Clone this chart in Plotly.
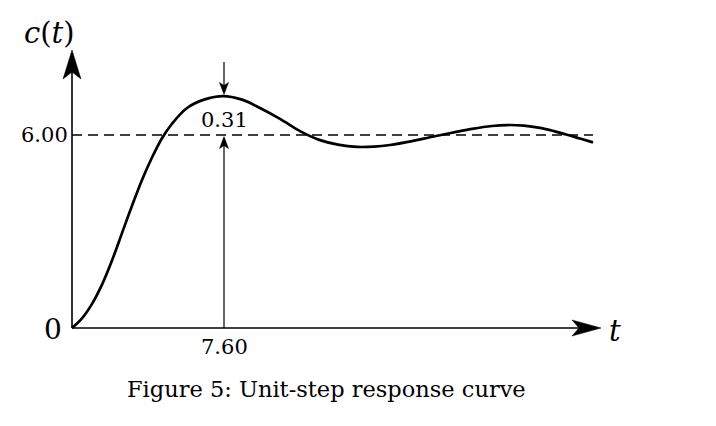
import plotly.graph_objects as go

# ---- data ----
t_vals = [0, 0.5, 1.0, 1.5, 2.0, 2.5, 3.0, 3.5, 4.0, 4.5, 5.0, 5.75, 6.6, 7.55,
          8.5, 9.4, 10.4, 11.4, 12.4, 13.3, 14.25, 15.1, 15.9, 17.0, 17.9, 19.0,
          20.0, 21.0, 21.75, 22.6, 23.4, 24.1, 24.75, 25.4, 26.05]
c_vals = [0, 0.3, 0.75, 1.35, 2.1, 2.95, 3.8, 4.6, 5.3, 5.9, 6.35, 6.84, 7.1, 7.21,
          7.1, 6.84, 6.5, 6.12, 5.84, 5.7, 5.63, 5.64, 5.69, 5.81, 5.93, 6.07,
          6.19, 6.28, 6.31, 6.29, 6.22, 6.12, 6.01, 5.89, 5.77]
level = 6.00
peak_t = 7.60
overshoot = 0.31
level_label = "6.00"
peak_label = "7.60"
overshoot_label = "0.31"
caption = "Figure 5: Unit-step response curve"

# ---- layout geometry (pixel mapping) ----
W, H = 716, 426
X0, SX = 72, 20.0          # pixel of t=0, px per unit
Y0, SY = 328, 193 / 6.0    # pixel of c=0, px per unit

def tx(px):
    return (px - X0) / SX

def cy(py):
    return (Y0 - py) / SY

x_tip = tx(601)
y_tip = cy(50)
t_end = t_vals[-1]
c_peak = max(c_vals)

FONT = "DejaVu Serif"
BLACK = "#000000"

fig = go.Figure()
fig.add_trace(go.Scatter(x=t_vals, y=c_vals, mode="lines",
                         line=dict(color=BLACK, width=2.7, shape="spline", smoothing=1.0),
                         hoverinfo="skip", showlegend=False))

shapes = []
# axes lines
shapes.append(dict(type="line", xref="x", yref="y", x0=0, y0=0, x1=x_tip - 0.5, y1=0,
                   line=dict(color=BLACK, width=1.6)))
shapes.append(dict(type="line", xref="x", yref="y", x0=0, y0=0, x1=0, y1=y_tip - 0.4,
                   line=dict(color=BLACK, width=1.6)))
# arrowheads (pixel sized)
def head(xa, ya, path):
    return dict(type="path", xref="x", yref="y", xsizemode="pixel", ysizemode="pixel",
                xanchor=xa, yanchor=ya, path=path, fillcolor=BLACK,
                line=dict(color=BLACK, width=0.5))

shapes.append(head(x_tip, 0, "M 0 0 L -29 8 L -22 0 L -29 -8 Z"))
shapes.append(head(0, y_tip, "M 0 0 L -9 -29 L 0 -22 L 9 -29 Z"))

# dashed steady state line
shapes.append(dict(type="line", xref="x", yref="y", x0=0, y0=level, x1=t_end, y1=level,
                   line=dict(color=BLACK, width=1.3, dash="10px,6px")))

# peak arrows
top_tail = cy(62)
top_tip = c_peak + 0.05
shapes.append(dict(type="line", xref="x", yref="y", x0=peak_t, y0=top_tail, x1=peak_t,
                   y1=top_tip + 0.2, line=dict(color=BLACK, width=1.2)))
shapes.append(head(peak_t, top_tip, "M 0 0 L -4.5 12 L 0 9 L 4.5 12 Z"))
bot_tip = level - 0.05
shapes.append(dict(type="line", xref="x", yref="y", x0=peak_t, y0=0, x1=peak_t,
                   y1=bot_tip - 0.2, line=dict(color=BLACK, width=1.2)))
shapes.append(head(peak_t, bot_tip, "M 0 0 L -4.5 -12 L 0 -9 L 4.5 -12 Z"))

annotations = [
    dict(text="<i>c</i>(<i>t</i>)", xref="paper", yref="paper", x=49 / W, y=1 - 33 / H,
         xanchor="center", yanchor="middle", showarrow=False,
         font=dict(family=FONT, size=29, color=BLACK)),
    dict(text="<i>t</i>", xref="x", yref="y", x=tx(615), y=cy(331),
         xanchor="center", yanchor="middle", showarrow=False,
         font=dict(family=FONT, size=29, color=BLACK)),
    dict(text="0", xref="x", yref="y", x=tx(53), y=cy(329),
         xanchor="center", yanchor="middle", showarrow=False,
         font=dict(family=FONT, size=28, color=BLACK)),
    dict(text=level_label, xref="x", yref="y", x=tx(70), y=level,
         xanchor="right", yanchor="middle", showarrow=False,
         font=dict(family=FONT, size=21, color=BLACK)),
    dict(text=overshoot_label, xref="x", yref="y", x=peak_t, y=cy(120),
         xanchor="center", yanchor="middle", showarrow=False,
         font=dict(family=FONT, size=21, color=BLACK)),
    dict(text=peak_label, xref="x", yref="y", x=peak_t, y=cy(347),
         xanchor="center", yanchor="middle", showarrow=False,
         font=dict(family=FONT, size=21, color=BLACK)),
    dict(text=caption, xref="paper", yref="paper", x=326 / W, y=1 - 389 / H,
         xanchor="center", yanchor="middle", showarrow=False,
         font=dict(family=FONT, size=22.5, color=BLACK)),
]

fig.update_layout(
    width=W, height=H, margin=dict(l=0, r=0, t=0, b=0),
    paper_bgcolor="white", plot_bgcolor="white",
    xaxis=dict(range=[tx(0), tx(W)], visible=False, fixedrange=True),
    yaxis=dict(range=[cy(H), cy(0)], visible=False, fixedrange=True),
    shapes=shapes, annotations=annotations, showlegend=False,
)
fig.write_html("out.html")
